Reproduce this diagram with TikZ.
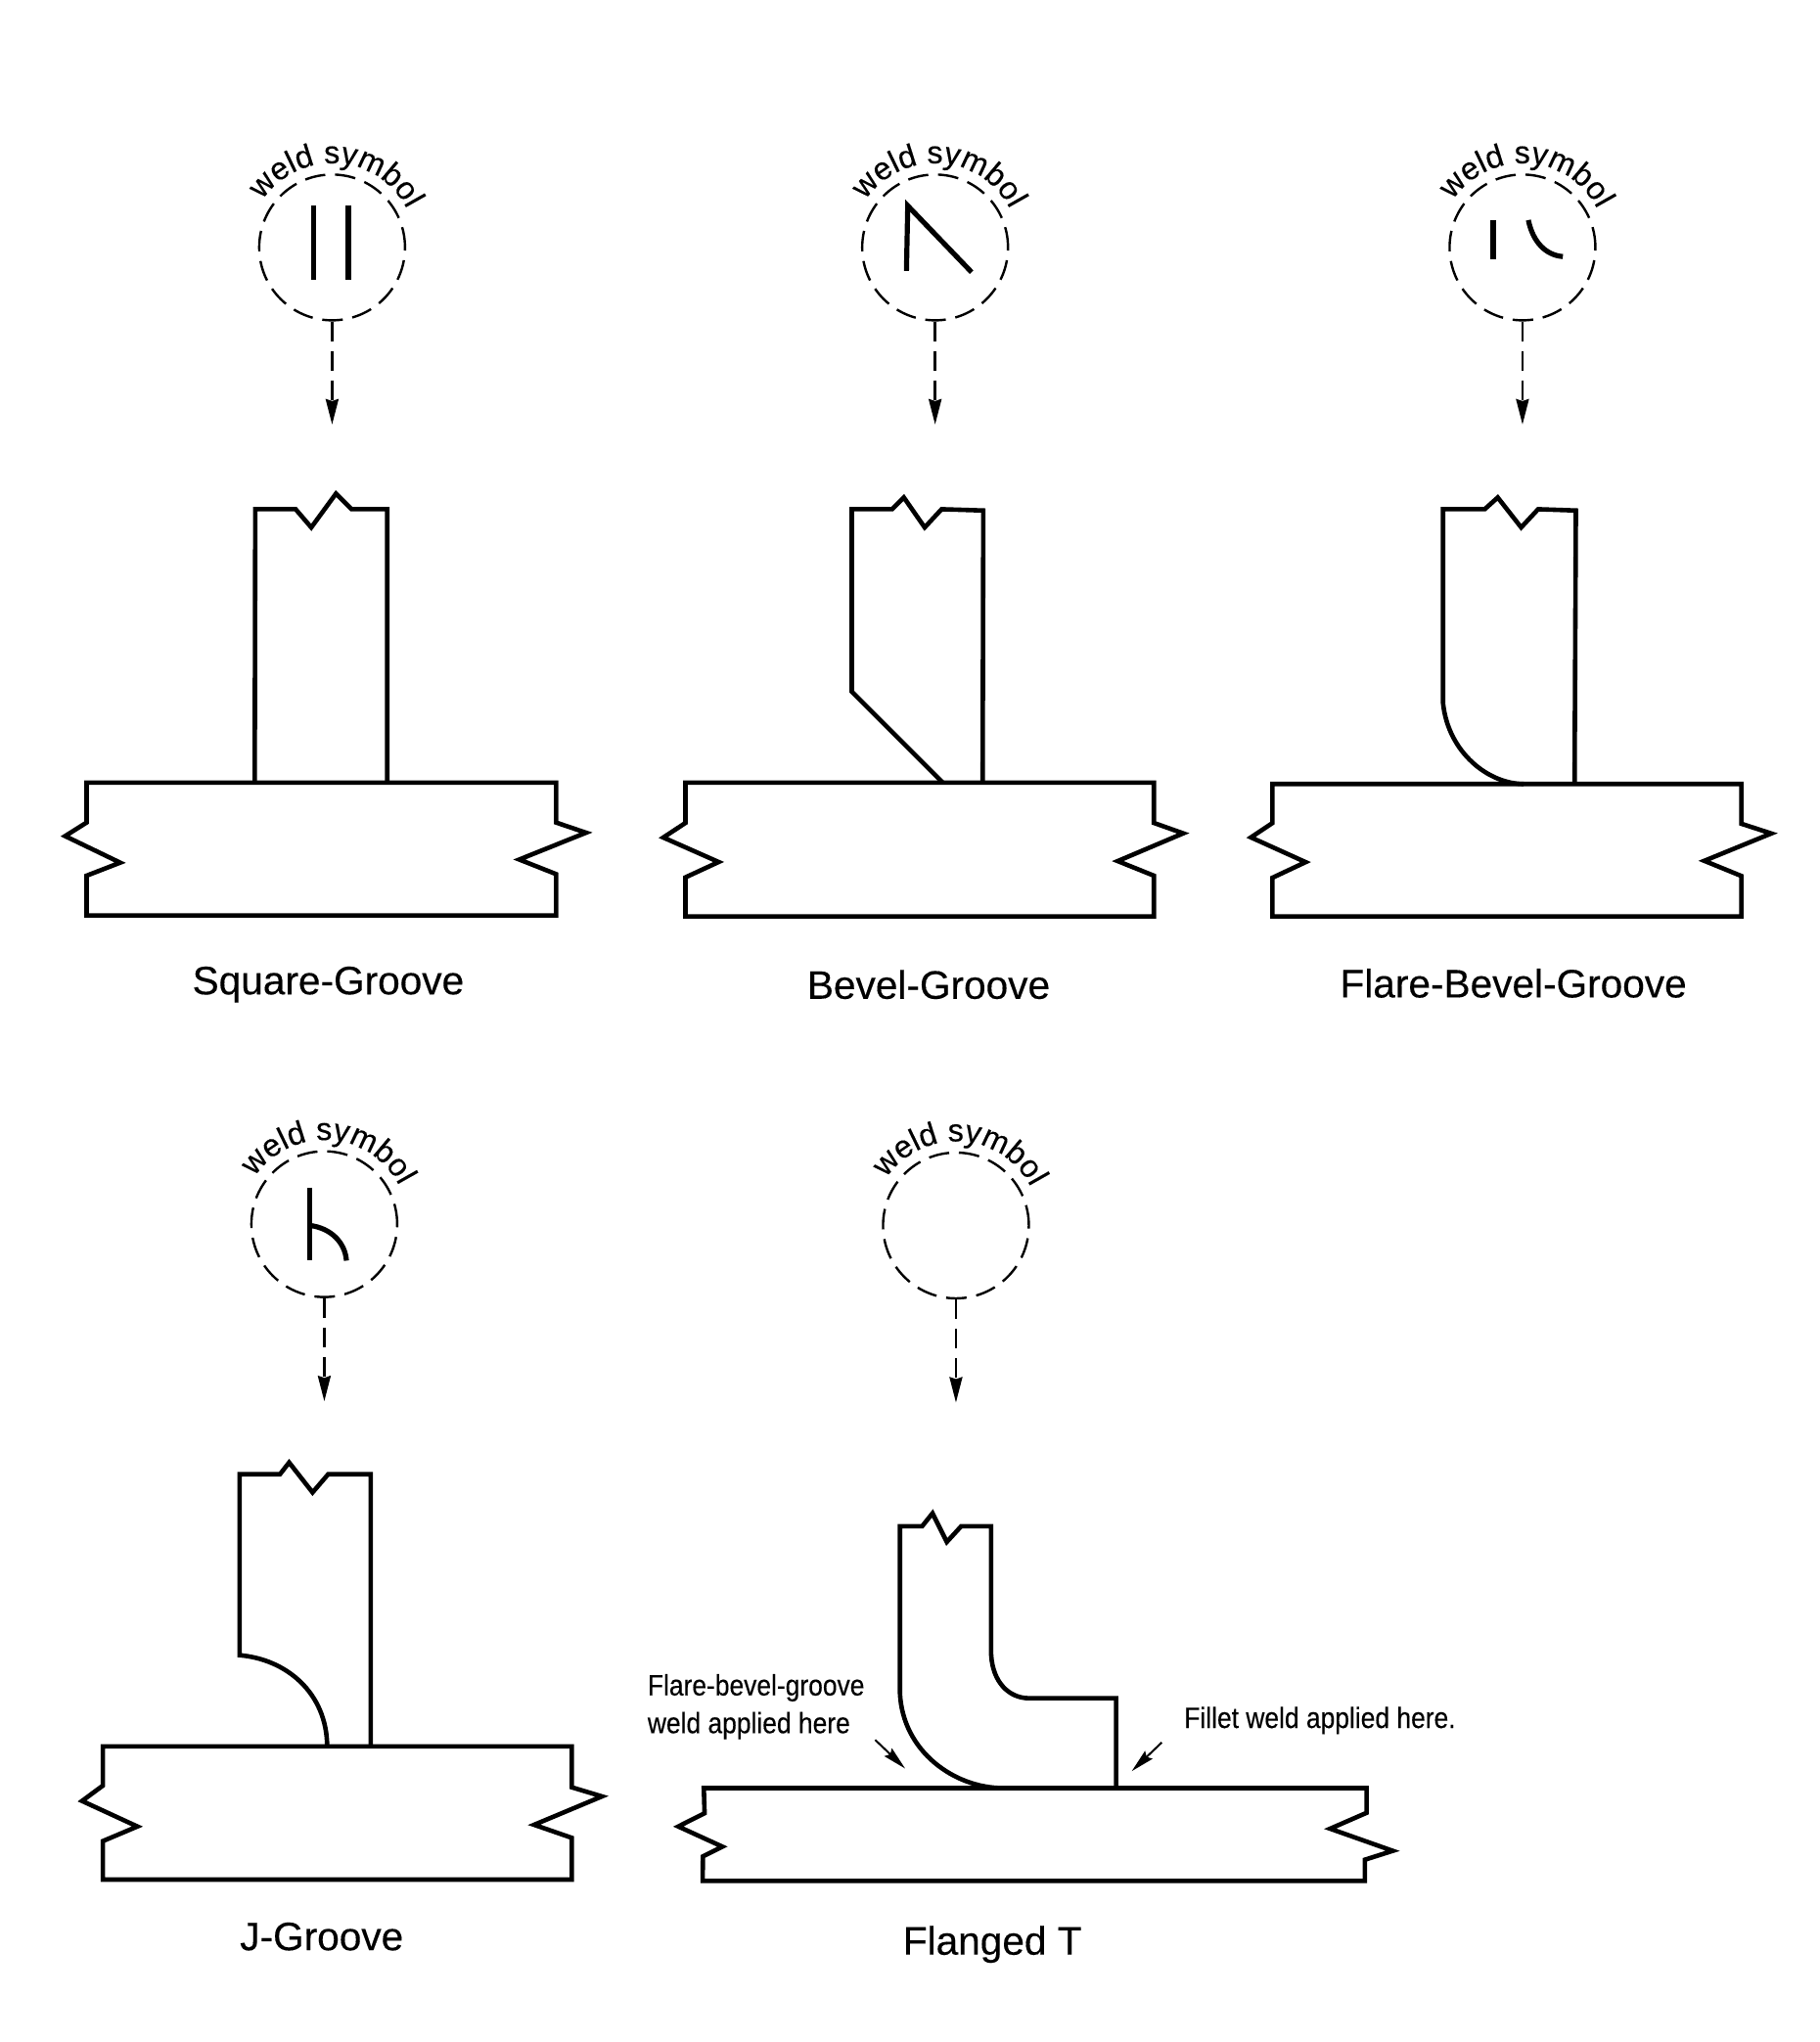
\documentclass[tikz,border=0pt]{standalone}
\usepackage{fontspec}
\setmainfont{Liberation Sans}
\newfontfamily\scanfont[FakeBold=0.25]{Liberation Sans}
\newfontfamily\narrowfont[FakeStretch=0.88,FakeBold=0.25]{Liberation Sans}
\usetikzlibrary{arrows.meta,decorations.text}
\tikzset{%
    weldline/.style={line width=2.3pt, line join=miter},
    symbolline/.style={line width=2.6pt},
    weldcircle/.style={circle, draw, inner sep=0pt, line width=1.2pt, minimum size=74.5pt, dash pattern=on 10.5pt off 5pt},
    weldarrow/.style={line width=1.3pt, dash pattern=on 10pt off 5pt, -{Stealth[length=13pt,width=6.5pt,inset=1pt]}},
    smallarrow/.style={line width=1pt, -{Stealth[length=12pt,width=5.5pt,inset=1.5pt]}},
    caption/.style={inner sep=0pt, font=\scanfont\fontsize{20.3}{24}\selectfont},
    remark/.style={inner sep=0pt, anchor=west, font=\narrowfont\fontsize{15}{18}\selectfont}
}

\begin{document}
\begin{tikzpicture}[x=0.6655pt,y=-0.6655pt]
\useasboundingbox (0,0) rectangle (1396.7,1568);
% circles, their labels and the arrows below them
\foreach \name/\cx/\cy in {A/255/190,B/718/190,C/1169/190,D/249/940,E/734/941}{
	\node[weldcircle] (circle\name) at (\cx,\cy) {};
	\coordinate (tip\name) at (\cx,\cy+136);
	\draw[weldarrow] (circle\name.south) -- (tip\name);
	\path[decorate,decoration={text along path,text align={center},
		text={|\scanfont\fontsize{16.2}{19}\selectfont|weld symbol}}]
		([shift={(148:43pt)}]circle\name.center) arc[start angle=148,end angle=25,radius=43pt];
}
% weld symbols
\draw[symbolline] (240.5,158) -- (240.5,215);
\draw[symbolline] (267.5,158) -- (267.5,215);
\draw[symbolline] (696,208) -- (697,158) -- (746,209);
\draw[symbolline] (1146.5,169) -- (1146.5,199);
\draw[symbolline] (1173.5,169) .. controls (1177,186) and (1187,196) .. (1200,197);
\draw[symbolline] (238,912) -- (238,968);
\draw[symbolline] (238,941) .. controls (254,943) and (265,954) .. (266,968);
% Square-Groove
\draw[weldline] (195.6,601) -- (196,391) -- (227,391) -- (239,405) -- (258,379) -- (270,391) -- (297.3,391) -- (297.3,601);
\draw[weldline] (66.5,601) -- (427,601) -- (427,631.6) -- (450,639.4) -- (398.7,660) -- (427,671.2) -- (427,703) -- (66.5,703) -- (66.5,672.4) -- (92.3,662.4) -- (50,642) -- (66.5,631.6) -- cycle;
\node[caption] (captionA) at (252,756) {Square-Groove};
% Bevel-Groove
\draw[weldline] (724,601) -- (654,531) -- (654,391) -- (685,391) -- (694,382) -- (710,405) -- (723,391) -- (755,392) -- (754.5,601);
\draw[weldline] (526.3,601) -- (886,601) -- (886,631.9) -- (908.5,639.9) -- (858.2,661.2) -- (886,672.4) -- (886,703.7) -- (526.3,703.7) -- (526.3,673.7) -- (551.8,661.9) -- (509.3,643.1) -- (526.3,631.9) -- cycle;
\node[caption] (captionB) at (713,756) {Bevel-Groove};
% Flare-Bevel-Groove
\draw[weldline] (1170,602) .. controls (1143,602) and (1112,578) .. (1108,540) -- (1108,391) -- (1140,391) -- (1150,382) -- (1168,405) -- (1181,391) -- (1210,392) -- (1209,602);
\draw[weldline] (977,602) -- (1337,602) -- (1337,632.5) -- (1360,640) -- (1308.6,661) -- (1337,672.6) -- (1337,703.7) -- (977,703.7) -- (977,674) -- (1002.5,662) -- (960.5,643) -- (977,632) -- cycle;
\node[caption] (captionC) at (1162,755) {Flare-Bevel-Groove};
% J-Groove
\draw[weldline] (251.2,1341) .. controls (251,1300) and (220,1274) .. (184,1271) -- (184,1132) -- (215,1132) -- (222,1123) -- (240,1146) -- (252,1132) -- (284.7,1132) -- (284.7,1341);
\draw[weldline] (79,1341) -- (439,1341) -- (439,1372.4) -- (462.2,1379.4) -- (410.1,1401.2) -- (439,1411.2) -- (439,1443.3) -- (79,1443.3) -- (79,1413.7) -- (105.5,1402.5) -- (63,1382.9) -- (79,1371.1) -- cycle;
\node[caption] (captionD) at (247,1487) {J-Groove};
% Flanged T
\draw[weldline] (770,1373) .. controls (733,1373) and (693,1345) .. (691,1300) -- (691,1172) -- (708,1172) -- (716,1162) -- (727,1184) -- (738,1172) -- (761,1172) -- (761,1270) .. controls (762,1292) and (775,1304) .. (790,1304) -- (857,1304) -- (857,1373);
\draw[weldline] (540.4,1373) -- (1049.3,1373) -- (1049.3,1392) -- (1021.3,1404.2) -- (1069.4,1421.2) -- (1048,1428) -- (1048,1444.3) -- (539.5,1444.3) -- (539.7,1425.5) -- (554.7,1418) -- (520.8,1402.5) -- (541,1392.3) -- cycle;
\node[caption] (captionE) at (762,1493) {Flanged T};
\node[remark] (flareA) at (497,1296) {Flare-bevel-groove};
\node[remark] (flareB) at (497,1325) {weld applied here};
\node[remark] (fillet) at (909,1321) {Fillet weld applied here.};
\coordinate (flareStart) at (672,1336);
\coordinate (flareEnd) at (695,1358);
\coordinate (filletStart) at (892,1338);
\coordinate (filletEnd) at (869,1360);
\draw[smallarrow] (flareStart) -- (flareEnd);
\draw[smallarrow] (filletStart) -- (filletEnd);
\end{tikzpicture}
\end{document}
